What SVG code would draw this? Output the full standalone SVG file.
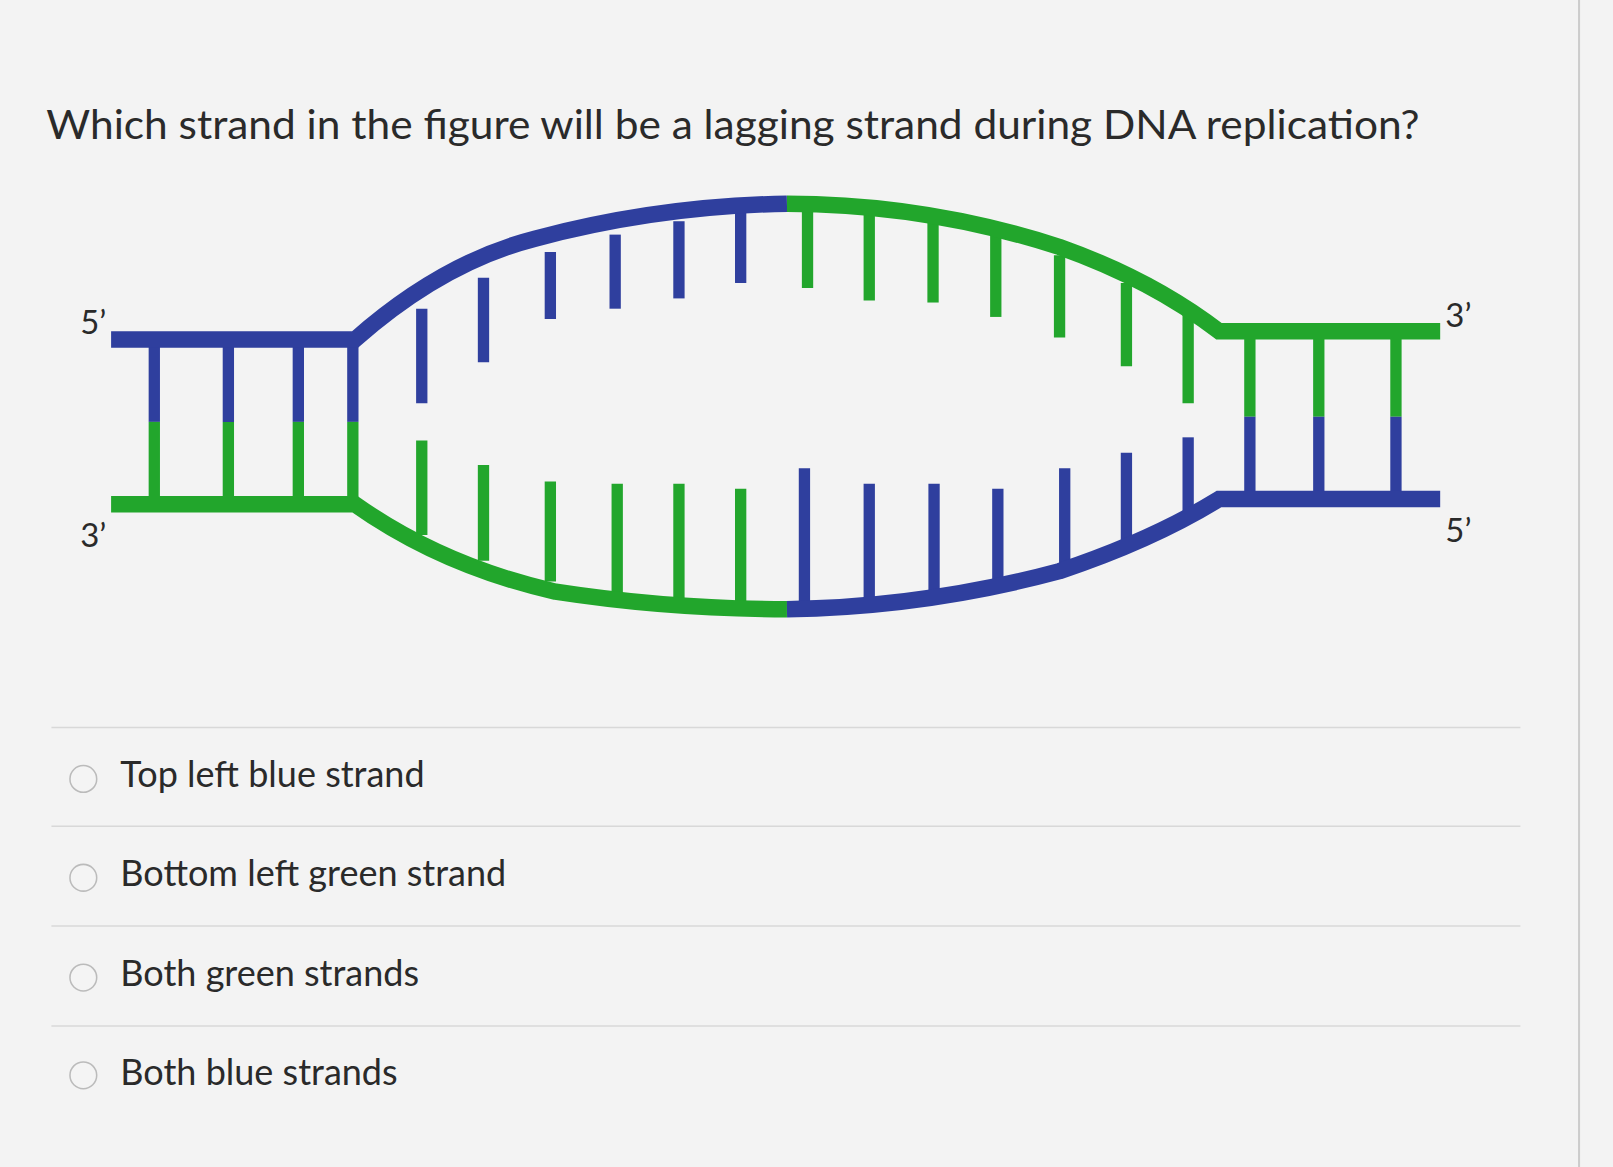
<svg xmlns="http://www.w3.org/2000/svg" width="1613" height="1167" viewBox="0 0 1613 1167">
<style>
.b{stroke:#2f3f9e;fill:none;stroke-width:16}
.g{stroke:#22a62c;fill:none;stroke-width:16}
.rb{stroke:#2f3f9e;stroke-width:11}
.rg{stroke:#22a62c;stroke-width:11}
.t{font-family:Lato,"Liberation Sans",sans-serif;fill:#2a2a2a}
.sep{stroke:#d8d8d8;stroke-width:1.5}
.opt{fill:#f4f4f4;stroke:#bbb;stroke-width:1.5}
</style>
<rect width="1613" height="1167" fill="#f3f3f3"/>
<g transform="scale(1.0287,1.029)">
<line x1="1535" y1="0" x2="1535" y2="1134" stroke="#ccc" stroke-width="2"/>
<g id="title"><text class="t" x="45" y="135" font-size="40" textLength="1335" lengthAdjust="spacingAndGlyphs">Which strand in the figure will be a lagging strand during DNA replication?</text></g>
<g id="dna">
<g id="rungs">
<line class="rb" x1="150" y1="330" x2="150" y2="410"/><line class="rg" x1="150" y1="410" x2="150" y2="490"/>
<line class="rb" x1="222" y1="330" x2="222" y2="410"/><line class="rg" x1="222" y1="410" x2="222" y2="490"/>
<line class="rb" x1="290" y1="330" x2="290" y2="410"/><line class="rg" x1="290" y1="410" x2="290" y2="490"/>
<line class="rb" x1="343" y1="330" x2="343" y2="410"/><line class="rg" x1="343" y1="410" x2="343" y2="490"/>
<line class="rg" x1="1215" y1="322" x2="1215" y2="405"/><line class="rb" x1="1215" y1="405" x2="1215" y2="485"/>
<line class="rg" x1="1282" y1="322" x2="1282" y2="405"/><line class="rb" x1="1282" y1="405" x2="1282" y2="485"/>
<line class="rg" x1="1357" y1="322" x2="1357" y2="405"/><line class="rb" x1="1357" y1="405" x2="1357" y2="485"/>
<line class="rb" x1="410" y1="300" x2="410" y2="392"/>
<line class="rb" x1="470" y1="270" x2="470" y2="352"/>
<line class="rb" x1="535" y1="245" x2="535" y2="310"/>
<line class="rb" x1="598" y1="228" x2="598" y2="300"/>
<line class="rb" x1="660" y1="215" x2="660" y2="290"/>
<line class="rb" x1="720" y1="205" x2="720" y2="275"/>
<line class="rg" x1="785" y1="200" x2="785" y2="280"/>
<line class="rg" x1="845" y1="205" x2="845" y2="292"/>
<line class="rg" x1="907" y1="215" x2="907" y2="294"/>
<line class="rg" x1="968" y1="228" x2="968" y2="308"/>
<line class="rg" x1="1030" y1="248" x2="1030" y2="328"/>
<line class="rg" x1="1095" y1="275" x2="1095" y2="356"/>
<line class="rg" x1="1155" y1="305" x2="1155" y2="392"/>
<line class="rg" x1="410" y1="428" x2="410" y2="520"/>
<line class="rg" x1="470" y1="452" x2="470" y2="545"/>
<line class="rg" x1="535" y1="468" x2="535" y2="565"/>
<line class="rg" x1="600" y1="470" x2="600" y2="578"/>
<line class="rg" x1="660" y1="470" x2="660" y2="585"/>
<line class="rg" x1="720" y1="475" x2="720" y2="590"/>
<line class="rb" x1="782" y1="455" x2="782" y2="590"/>
<line class="rb" x1="845" y1="470" x2="845" y2="586"/>
<line class="rb" x1="908" y1="470" x2="908" y2="578"/>
<line class="rb" x1="970" y1="475" x2="970" y2="565"/>
<line class="rb" x1="1035" y1="455" x2="1035" y2="548"/>
<line class="rb" x1="1095" y1="440" x2="1095" y2="525"/>
<line class="rb" x1="1155" y1="425" x2="1155" y2="500"/>
</g>
<g id="strands">
<path class="b" d="M108,330 L345,330 Q430,255 520,232 Q640,200 765,198"/>
<path class="g" d="M765,198 Q900,198 1030,240 Q1120,272 1185,322 L1400,322"/>
<path class="g" d="M108,490 L345,490 Q430,550 540,575 Q650,592 765,592"/>
<path class="b" d="M765,592 Q900,590 1030,555 Q1120,525 1185,485 L1400,485"/>
</g>
<g id="labels" class="t" font-size="32">
<text x="78" y="325">5’</text><text x="78" y="532">3’</text>
<text x="1405" y="318">3’</text><text x="1405" y="527">5’</text>
</g>
</g>
<g id="options">
<line class="sep" x1="50" y1="707" x2="1478" y2="707"/>
<line class="sep" x1="50" y1="803" x2="1478" y2="803"/>
<line class="sep" x1="50" y1="900" x2="1478" y2="900"/>
<line class="sep" x1="50" y1="997" x2="1478" y2="997"/>
<circle class="opt" cx="81" cy="757" r="13"/><text class="t" x="117" y="765" font-size="35">Top left blue strand</text>
<circle class="opt" cx="81" cy="853" r="13"/><text class="t" x="117" y="861" font-size="35">Bottom left green strand</text>
<circle class="opt" cx="81" cy="950" r="13"/><text class="t" x="117" y="958" font-size="35">Both green strands</text>
<circle class="opt" cx="81" cy="1045" r="13"/><text class="t" x="117" y="1054" font-size="35">Both blue strands</text>
</g>
</g>
</svg>
